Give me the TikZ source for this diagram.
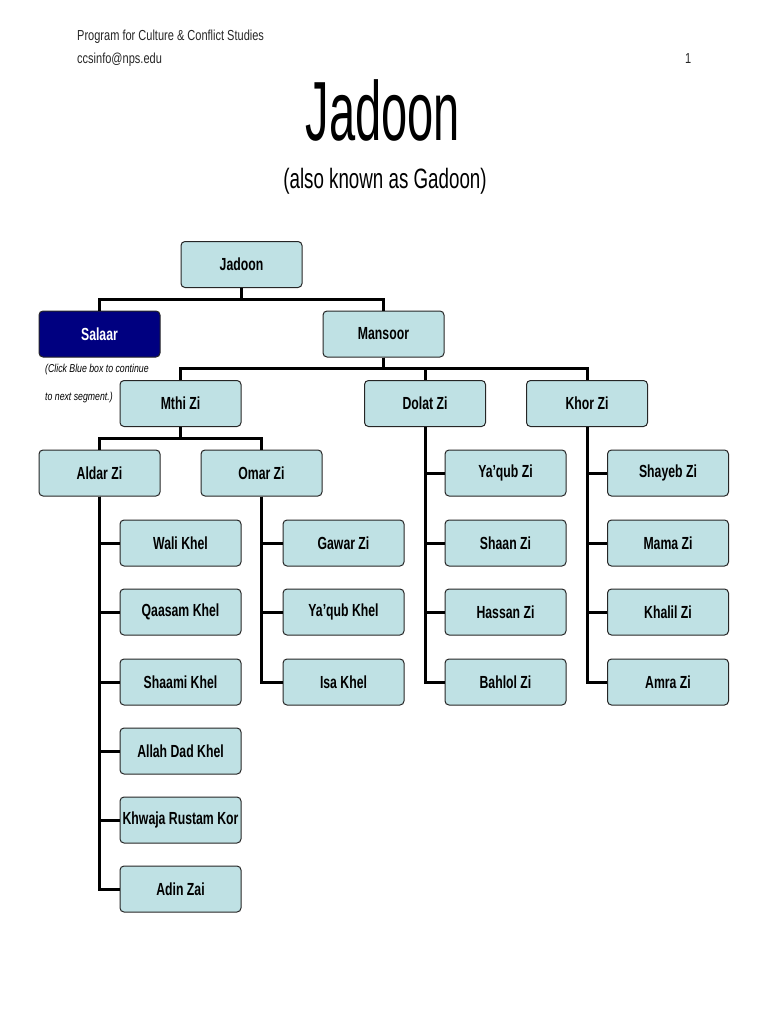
\documentclass[tikz,border=0pt]{standalone}
\usepackage{fontspec}
\setmainfont[FakeStretch=0.76]{Liberation Sans}
\newfontfamily\titlefont[FakeStretch=0.56]{Liberation Sans}
\newfontfamily\subfont[FakeStretch=0.67]{Liberation Sans}
\newfontfamily\boxfont[FakeStretch=0.7]{Liberation Sans}
\usepackage{tikz}
\usetikzlibrary{positioning,calc}
\definecolor{boxfill}{RGB}{191,225,228}
\definecolor{navy}{RGB}{0,0,128}

\begin{document}
\begin{tikzpicture}[
    x=1pt, y=-1pt,
    tribe/.style={draw=black!85, fill=boxfill, rounded corners=4pt, line width=1pt,
        minimum width=121pt, minimum height=46pt, inner sep=0pt,
        font=\boxfont\bfseries\fontsize{17.5}{19}\selectfont},
    link/.style={line width=3pt},
    header/.style={anchor=base west, inner sep=0pt, font=\fontsize{14.5}{16}\selectfont, text=black!85}
]
\useasboundingbox (0,0) rectangle (768,1024);

% page header
\node[header] (prog) at (77,41) {Program for Culture \& Conflict Studies};
\node[header] (mail) at (77,64) {ccsinfo@nps.edu};
\node[header] (page) at (685,64) {1};
\node[inner sep=0pt, font=\titlefont\fontsize{84}{84}\selectfont] (title) at (383,110) {Jadoon};
\node[inner sep=0pt, font=\subfont\fontsize{28}{30}\selectfont] (sub) at (385,181) {(also known as Gadoon)};

% top levels
\node[tribe] (jad) at (241.5,264.5) {Jadoon};
\node[tribe, fill=navy, text=white] (sal) at (99.5,334) {Salaar};
\node[tribe] (man) at (383.5,334) {Mansoor};
\node[tribe] (mth) at (180.5,403.5) {Mthi Zi};
\node[tribe] (dol) at (425,403.5) {Dolat Zi};
\node[tribe] (kho) at (587,403.5) {Khor Zi};
\node[tribe] (ald) at (99.5,473) {Aldar Zi};
\node[tribe] (oma) at (261.5,473) {Omar Zi};

\node[anchor=base west, inner sep=0pt, font=\itshape\fontsize{11.5}{13}\selectfont] (note1) at (45,372) {(Click Blue box to continue};
\node[anchor=base west, inner sep=0pt, font=\itshape\fontsize{11.5}{13}\selectfont] (note2) at (45,400) {to next segment.)};

% sub-clans
\node[tribe] (a1) at (180.5,543) {Wali Khel};
\node[tribe] (a2) at (180.5,612) {Qaasam Khel};
\node[tribe] (a3) at (180.5,682) {Shaami Khel};
\node[tribe] (a4) at (180.5,751) {Allah Dad Khel};
\node[tribe] (a5) at (180.5,820) {Khwaja Rustam Kor};
\node[tribe] (a6) at (180.5,889) {Adin Zai};

\node[tribe] (o1) at (343.5,543) {Gawar Zi};
\node[tribe] (o2) at (343.5,612) {Ya’qub Khel};
\node[tribe] (o3) at (343.5,682) {Isa Khel};

\node[tribe] (d1) at (505.5,473) {Ya’qub Zi};
\node[tribe] (d2) at (505.5,543) {Shaan Zi};
\node[tribe] (d3) at (505.5,612) {Hassan Zi};
\node[tribe] (d4) at (505.5,682) {Bahlol Zi};

\node[tribe] (k1) at (668,473) {Shayeb Zi};
\node[tribe] (k2) at (668,543) {Mama Zi};
\node[tribe] (k3) at (668,612) {Khalil Zi};
\node[tribe] (k4) at (668,682) {Amra Zi};

% connectors
\draw[link] (jad.south) -- ++(0,11) -| (sal.north);
\draw[link] (jad.south) -- ++(0,11) -| (man.north);
\draw[link] (man.south) -- ++(0,11) -| (mth.north);
\draw[link] (man.south) -- ++(0,11) -| (dol.north);
\draw[link] (man.south) -- ++(0,11) -| (kho.north);
\draw[link] (mth.south) -- ++(0,11) -| (ald.north);
\draw[link] (mth.south) -- ++(0,11) -| (oma.north);

\foreach \c in {a1,a2,a3,a4,a5,a6}
    \draw[link] (ald.south) |- (\c.west);
\foreach \c in {o1,o2,o3}
    \draw[link] (oma.south) |- (\c.west);
\foreach \c in {d1,d2,d3,d4}
    \draw[link] (dol.south) |- (\c.west);
\foreach \c in {k1,k2,k3,k4}
    \draw[link] (kho.south) |- (\c.west);
\end{tikzpicture}
\end{document}
